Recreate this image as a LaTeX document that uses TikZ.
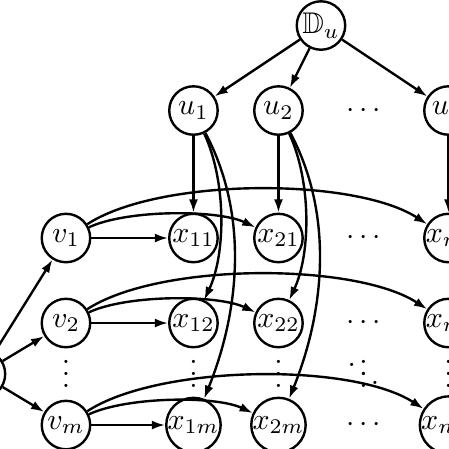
\documentclass[tikz,border=0pt]{standalone}
\usepackage{amssymb}
\usetikzlibrary{arrows.meta}

\begin{document}
\begin{tikzpicture}

\tikzset{vertex/.style={circle, draw, line width=0.8pt, inner sep=0pt, minimum size=0.57cm},
  arc/.style={line width=0.8pt, -{Latex[length=4.4pt,width=3pt]}},
  hdots/.style={inner sep=0pt},
  vdots/.style={inner sep=0pt, yshift=3pt}}

\useasboundingbox (-0.776,-2.482) rectangle (4.506,2.8);
\clip (-0.776,-2.482) rectangle (4.506,2.8);

\node[vertex] (Du) at (3,2.5) {$\mathbb{D}_u$};
\node[vertex] (u_1) at (1.5,1.5) {$u_1$};
\node[vertex] (u_2) at (2.5,1.5) {$u_2$};
\node[hdots] (u_d) at (3.5,1.5) {$\cdots$};
\node[vertex] (u_n) at (4.5,1.5) {$u_n$};
\draw[arc] (Du) -- (u_1);
\draw[arc] (Du) -- (u_2);
\draw[arc] (Du) -- (u_n);

\node[vertex] (Dv) at (-1,-1.6) {};
\node[vertex] (v_1) at (0,0) {$v_1$};
\node[vertex] (v_2) at (0,-1) {$v_2$};
\node[vdots] (v_d) at (0,-1.6) {$\vdots$};
\node[vertex] (v_m) at (0,-2.2) {$v_m$};
\draw[arc] (Dv) -- (v_1);
\draw[arc] (Dv) -- (v_2);
\draw[arc] (Dv) -- (v_m);

\node[vertex] (x_11) at (1.5,0) {$x_{11}$};
\node[vertex] (x_21) at (2.5,0) {$x_{21}$};
\node[hdots] (x_d1) at (3.5,0) {$\cdots$};
\node[vertex] (x_n1) at (4.5,0) {$x_{n1}$};

\node[vertex] (x_12) at (1.5,-1) {$x_{12}$};
\node[vertex] (x_22) at (2.5,-1) {$x_{22}$};
\node[hdots] (x_d2) at (3.5,-1) {$\cdots$};
\node[vertex] (x_n2) at (4.5,-1) {$x_{n2}$};

\node[vdots] (x_1d) at (1.5,-1.6) {$\vdots$};
\node[vdots] (x_2d) at (2.5,-1.6) {$\vdots$};
\node[vdots] (x_dd) at (3.5,-1.6) {$\vdots$};
\node[vdots] (x_dd') at (3.5,-1.6) {$\ddots$};
\node[vdots] (x_nd) at (4.5,-1.6) {$\vdots$};

\node[vertex] (x_1m) at (1.5,-2.2) {$x_{1m}$};
\node[vertex] (x_2m) at (2.5,-2.2) {$x_{2m}$};
\node[hdots] (x_dm) at (3.5,-2.2) {$\cdots$};
\node[vertex] (x_nm) at (4.5,-2.2) {$x_{nm}$};

\draw[arc] (u_1) -- (x_11);
\draw[arc] (u_1) to[out=-65,in=65,looseness=0.8] (x_12);
\draw[arc] (u_1) to[out=-62,in=68,looseness=0.9] (x_1m);
\draw[arc] (u_2) -- (x_21);
\draw[arc] (u_2) to[out=-65,in=65,looseness=0.8] (x_22);
\draw[arc] (u_2) to[out=-62,in=68,looseness=0.9] (x_2m);
\draw[arc] (u_n) -- (x_n1);

\draw[arc] (v_1) -- (x_11);
\draw[arc] (v_1) to[out=25,in=155,looseness=0.65] (x_21);
\draw[arc] (v_1) to[out=33,in=147,looseness=0.65] (x_n1);
\draw[arc] (v_2) -- (x_12);
\draw[arc] (v_2) to[out=25,in=155,looseness=0.65] (x_22);
\draw[arc] (v_2) to[out=33,in=147,looseness=0.65] (x_n2);
\draw[arc] (v_m) -- (x_1m);
\draw[arc] (v_m) to[out=25,in=155,looseness=0.65] (x_2m);
\draw[arc] (v_m) to[out=33,in=147,looseness=0.65] (x_nm);

\end{tikzpicture}
\end{document}
